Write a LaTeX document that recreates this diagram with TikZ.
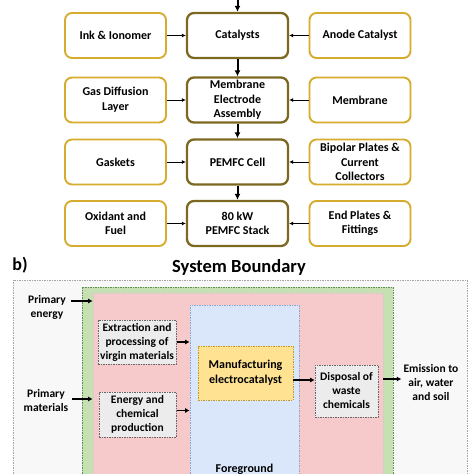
\documentclass[tikz,border=0pt]{standalone}
\usepackage{fontspec}
\setmainfont{Carlito}
\usetikzlibrary{arrows.meta}

\definecolor{gold}{HTML}{D6AC2E}
\definecolor{darkgold}{HTML}{7D6821}
\definecolor{outerfill}{HTML}{F8F8F8}
\definecolor{greenfill}{HTML}{C6E0B4}
\definecolor{greenline}{HTML}{5F8F4C}
\definecolor{pinkfill}{HTML}{F6CACA}
\definecolor{bluefill}{HTML}{DAE7FA}
\definecolor{blueline}{HTML}{8EA6CE}
\definecolor{yellowfill}{HTML}{FFE393}
\definecolor{yellowline}{HTML}{C49A22}
\definecolor{greyfill}{HTML}{ECECEC}

\tikzset{
  sidebox/.style={draw=gold, line width=1.9pt, rounded corners=7pt, fill=white,
    minimum width=101pt, minimum height=45pt, align=center, inner sep=1pt},
  mainbox/.style={sidebox, draw=darkgold, line width=2.3pt},
  feed/.style={-{Latex[length=4pt,width=4pt]}, line width=1pt},
  chain/.style={-{Latex[length=6pt,width=6pt]}, line width=2pt},
  zone/.style={dash pattern=on 1.5pt off 1pt, line width=0.6pt, inner sep=0pt},
  procbox/.style={zone, draw=black!60, fill=greyfill, align=center, inner sep=1pt},
  flow/.style={-{Latex[length=4.5pt,width=5pt]}, line width=1.8pt},
  label/.style={align=center, inner sep=2pt}
}

\begin{document}
\begin{tikzpicture}[x=1pt, y=-1pt, font=\bfseries\fontsize{12}{14.6}\selectfont]
\useasboundingbox (0,0) rectangle (474,474);
\clip (0,0) rectangle (474,474);

% a) component chain
\node[mainbox] (cat) at (237.5,35.5) {Catalysts};
\node[mainbox] (mea) at (237.5,100) {Membrane\\Electrode\\Assembly};
\node[mainbox] (cell) at (237.5,162) {PEMFC Cell};
\node[mainbox] (stack) at (237.5,223.5) {80 kW\\PEMFC Stack};

\node[sidebox] (ink) at (115.5,35.5) {Ink \& Ionomer};
\node[sidebox] (gdl) at (115.5,100) {Gas Diffusion\\Layer};
\node[sidebox] (gask) at (115.5,162) {Gaskets};
\node[sidebox] (fuel) at (115.5,223.5) {Oxidant and\\Fuel};

\node[sidebox] (anode) at (360,35.5) {Anode Catalyst};
\node[sidebox] (memb) at (360,100) {Membrane};
\node[sidebox] (bip) at (360,162) {Bipolar Plates \&\\Current\\Collectors};
\node[sidebox] (endp) at (360,223.5) {End Plates \&\\Fittings};

\coordinate (topin) at (237.5,-2);
\draw[chain] (topin) -- (cat.north);
\draw[chain] (cat) -- (mea);
\draw[chain] (mea) -- (cell);
\draw[chain] (cell) -- (stack);

\draw[feed] (ink) -- (cat);
\draw[feed] (gdl) -- (mea);
\draw[feed] (gask) -- (cell);
\draw[feed] (fuel) -- (stack);
\draw[feed] (anode) -- (cat);
\draw[feed] (memb) -- (mea);
\draw[feed] (bip) -- (cell);
\draw[feed] (endp) -- (stack);

% b) system boundary
\node[font=\bfseries\fontsize{18}{20}\selectfont] (blabel) at (20,265) {b)};
\node[font=\bfseries\fontsize{18.5}{20}\selectfont] (title) at (239,267) {System Boundary};

\node[zone, draw=black!35, fill=outerfill, minimum width=454pt, minimum height=200pt] (outer) at (240,380) {};
\node[zone, draw=greenline, fill=greenfill, minimum width=311pt, minimum height=193pt] (green) at (237.5,383.5) {};
\node[zone, draw=pinkfill!60!black!40, fill=pinkfill, minimum width=290pt, minimum height=187pt] (pink) at (238,386.5) {};
\node[zone, draw=blueline, fill=bluefill, minimum width=109pt, minimum height=175pt] (fg) at (244.5,392.5) {};
\node[anchor=base, font=\bfseries\fontsize{12}{14}\selectfont] (fglabel) at (244.5,472) {Foreground};

\begin{scope}[font=\bfseries\fontsize{11.5}{14}\selectfont]
\node[procbox, minimum width=78pt, minimum height=44pt] (extr) at (137,342) {Extraction and\\processing of\\virgin materials};
\node[procbox, minimum width=77pt, minimum height=45pt] (chem) at (137.5,414.5) {Energy and\\chemical\\production};
\node[zone, draw=yellowline, fill=yellowfill, align=center, minimum width=95pt, minimum height=54pt, font=\bfseries\fontsize{12}{15}\selectfont] (manu) at (245.5,373) {Manufacturing\\electrocatalyst};
\node[procbox, minimum width=63pt, minimum height=52pt] (disp) at (346.5,391) {Disposal of\\waste\\chemicals};

\node[label] (penergy) at (47,307) {Primary\\energy};
\node[label] (pmat) at (46,401) {Primary\\materials};
\node[label] (emit) at (431,383) {Emission to\\air, water\\and soil};
\end{scope}

\draw[flow] ([yshift=6pt,xshift=3pt]penergy.east) -- ([yshift=6pt]penergy.east -| pink.west);
\draw[flow] ([yshift=2pt,xshift=2pt]pmat.east) -- ([yshift=2pt]pmat.east -| pink.west);
\draw[flow] ([xshift=1pt]extr.east) -- (extr.east -| fg.west);
\draw[flow] ([yshift=4pt,xshift=1pt]chem.east) -- ([yshift=4pt]chem.east -| fg.west);
\draw[flow] ([yshift=-7pt]manu.east) -- ([yshift=-7pt]manu.east -| disp.west);
\draw[flow] ([yshift=4pt]emit.west -| pink.east) -- ([yshift=4pt]emit.west);

\end{tikzpicture}
\end{document}
